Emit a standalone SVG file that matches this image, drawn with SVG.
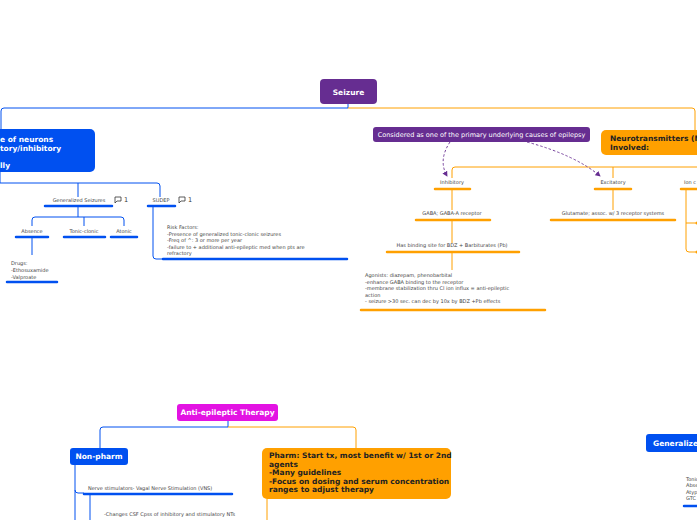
<svg xmlns="http://www.w3.org/2000/svg" width="697" height="520" viewBox="0 0 697 520">
<style>
text{font-family:"DejaVu Sans","Liberation Sans",sans-serif}
.s{font-size:5px;fill:#444}
.b{font-size:7.5px;font-weight:bold;fill:#fff}
.ob{font-size:7.5px;font-weight:bold;fill:#222}
.bl{fill:none;stroke:#0050f0;stroke-width:1}
.ol{fill:none;stroke:#ffa000;stroke-width:1}
.bu{stroke:#0050f0;stroke-width:2.5;stroke-linecap:round}
.ou{stroke:#ffa000;stroke-width:2.5;stroke-linecap:round}
.ic{fill:none;stroke:#333;stroke-width:0.8}
</style>
<defs><marker id="ah" markerWidth="6" markerHeight="6" refX="5" refY="3" orient="auto"><path d="M0,0L6,3L0,6z" fill="#662d91"/></marker></defs>
<rect width="697" height="520" fill="#fff"/>
<g id="connectors">
<path class="bl" d="M348,104V108H4Q1,108 1,111V130"/>
<path class="ol" d="M348,108H692Q695,108 695,111V130"/>
<path class="bl" d="M0,172V183H157Q160,183 160,186V197M78,183V197"/>
<path class="bl" d="M78,206V217H35Q32,217 32,220V226M78,217H121Q124,217 124,220V226M84,217V226"/>
<path class="bl" d="M32,237V255"/>
<path class="bl" d="M153,206V256Q153,259 156,259H162"/>
<path class="ol" d="M697,167H455Q452,167 452,170V178M613,167V178"/>
<path class="ol" d="M452,189V210M452,220V243M452,252V270M613,189V210"/>
<path class="ol" d="M686,189V249Q686,252 689,252H697M686,223H697"/>
<path d="M450,142Q438,160 447,176" fill="none" stroke="#662d91" stroke-width="0.9" stroke-dasharray="2.5,2" marker-end="url(#ah)"/>
<path d="M527,142Q575,155 600,176" fill="none" stroke="#662d91" stroke-width="0.9" stroke-dasharray="2.5,2" marker-end="url(#ah)"/>
<path class="bl" d="M228,421V427H103Q100,427 100,430V448"/>
<path class="ol" d="M228,427H353Q356,427 356,430V448"/>
<path class="bl" d="M75,465V520M75,490Q75,493 78,493H84M90,494V520"/>
<path class="ol" d="M267,499V520"/>
</g>
<g id="seizure"><rect x="320" y="79" width="57" height="25" rx="4" fill="#662d91"/><text x="348.5" y="95" class="b" text-anchor="middle" font-size="8.5">Seizure</text></g>
<g id="neurons"><rect x="-20" y="129" width="115" height="43" rx="5" fill="#0050f0"/><text x="0" y="142" class="b">e of neurons</text><text x="0" y="151" class="b">tory/inhibitory</text><text x="0" y="168" class="b">lly</text></g>
<g id="gen"><text x="79" y="202" class="s" text-anchor="middle">Generalized Seizures</text><line x1="45" y1="206" x2="112" y2="206" class="bu"/>
<path class="ic" d="M115,197h6v4h-4l-2,2z"/><text x="124" y="202" font-size="6.5" fill="#333">1</text></g>
<g id="sudep"><text x="161" y="202" class="s" text-anchor="middle">SUDEP</text><line x1="148" y1="206" x2="175" y2="206" class="bu"/>
<path class="ic" d="M179,197h6v4h-4l-2,2z"/><text x="188" y="202" font-size="6.5" fill="#333">1</text></g>
<g id="absence"><text x="32" y="233" class="s" text-anchor="middle">Absence</text><line x1="16" y1="237" x2="48" y2="237" class="bu"/></g>
<g id="tonic"><text x="84" y="233" class="s" text-anchor="middle">Tonic-clonic</text><line x1="64" y1="237" x2="105" y2="237" class="bu"/></g>
<g id="atonic"><text x="124" y="233" class="s" text-anchor="middle">Atonic</text><line x1="111" y1="237" x2="137" y2="237" class="bu"/></g>
<g id="drugs"><text class="s"><tspan x="11" y="265">Drugs:</tspan><tspan x="11" y="272">-Ethosuxamide</tspan><tspan x="11" y="279">-Valproate</tspan></text><line x1="7" y1="282" x2="57" y2="282" class="bu"/></g>
<g id="risk"><text class="s"><tspan x="167" y="229">Risk Factors:</tspan><tspan x="167" y="235.5">-Presence of generalized tonic-clonic seizures</tspan><tspan x="167" y="242">-Freq of ^: 3 or more per year</tspan><tspan x="167" y="248.5">-failure to + additional anti-epileptic med when pts are</tspan><tspan x="167" y="255">refractory</tspan></text><line x1="163" y1="259" x2="347" y2="259" class="bu"/></g>
<g id="considered"><rect x="373" y="127" width="217" height="15" rx="3" fill="#662d91"/><text x="481.5" y="137" font-size="6.5" fill="#fff" text-anchor="middle">Considered as one of the primary underlying causes of epilepsy</text></g>
<g id="nt"><rect x="601" y="130" width="110" height="25" rx="5" fill="#ffa000"/><text x="610" y="141" class="ob">Neurotransmitters (NT</text><text x="610" y="150" class="ob">Involved:</text></g>
<g id="inhib"><text x="452" y="184" class="s" text-anchor="middle">Inhibitory</text><line x1="435" y1="189" x2="470" y2="189" class="ou"/></g>
<g id="excit"><text x="613" y="184" class="s" text-anchor="middle">Excitatory</text><line x1="595" y1="189" x2="631" y2="189" class="ou"/></g>
<g id="ion"><text x="684" y="184" class="s">Ion c</text><line x1="681" y1="189" x2="697" y2="189" class="ou"/><circle cx="697" cy="223" r="1.5" fill="#ffa000"/><circle cx="697" cy="252" r="1.5" fill="#ffa000"/></g>
<g id="gaba"><text x="452" y="215" class="s" text-anchor="middle">GABA; GABA-A receptor</text><line x1="416" y1="220" x2="490" y2="220" class="ou"/></g>
<g id="glut"><text x="613" y="215" class="s" text-anchor="middle">Glutamate; assoc. w/ 3 receptor systems</text><line x1="551" y1="220" x2="675" y2="220" class="ou"/></g>
<g id="bdz"><text x="452" y="247" class="s" text-anchor="middle">Has binding site for BDZ + Barbiturates (Pb)</text><line x1="387" y1="252" x2="519" y2="252" class="ou"/></g>
<g id="agon"><text class="s"><tspan x="365" y="277">Agonists: diazepam, phenobarbital</tspan><tspan x="365" y="283.5">-enhance GABA binding to the receptor</tspan><tspan x="365" y="290">-membrane stabilization thru Cl ion influx = anti-epileptic</tspan><tspan x="365" y="296.5">action</tspan><tspan x="365" y="303">- seizure &gt;30 sec. can dec by 10x by BDZ +Pb effects</tspan></text><line x1="361" y1="310" x2="545" y2="310" class="ou"/></g>
<g id="aet"><rect x="177" y="404" width="101" height="17" rx="3" fill="#e313e3"/><text x="227.5" y="415" class="b" text-anchor="middle" font-size="7">Anti-epileptic Therapy</text></g>
<g id="nonpharm"><rect x="70" y="448" width="58" height="17" rx="3" fill="#0050f0"/><text x="99" y="459" class="b" text-anchor="middle" font-size="7">Non-pharm</text></g>
<g id="vns"><text x="88" y="490" class="s">Nerve stimulators- Vagal Nerve Stimulation (VNS)</text><line x1="84" y1="494" x2="232" y2="494" class="bu"/></g>
<g id="csf"><text x="104" y="516" class="s">-Changes CSF Cpss of inhibitory and stimulatory NTs</text></g>
<g id="pharm"><rect x="262" y="448" width="189" height="51" rx="5" fill="#ffa000"/><text class="ob" font-size="7"><tspan x="269" y="458">Pharm: Start tx, most benefit w/ 1st or 2nd</tspan><tspan x="269" y="466.5">agents</tspan><tspan x="269" y="475">-Many guidelines</tspan><tspan x="269" y="483.5">-Focus on dosing and serum concentration</tspan><tspan x="269" y="492">ranges to adjust therapy</tspan></text></g>
<g id="gen2"><rect x="646" y="434" width="60" height="18" rx="3" fill="#0050f0"/><text x="653" y="446" class="b" font-size="7">Generalized</text>
<text class="s"><tspan x="686" y="481">Tonic</tspan><tspan x="686" y="487">Abse</tspan><tspan x="686" y="494">Atyp</tspan><tspan x="686" y="500">GTC</tspan></text><line x1="684" y1="506" x2="697" y2="506" class="bu"/></g>
</svg>
